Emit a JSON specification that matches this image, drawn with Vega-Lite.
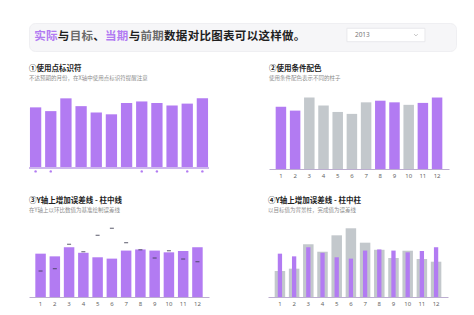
{
  "$schema": "https://vega.github.io/schema/vega-lite/v6.json",
  "padding": {"left": 25, "top": 22, "right": 0, "bottom": 0},
  "background": "white",
  "config": {
    "font": "Noto Sans CJK SC",
    "view": {"stroke": null},
    "title": {"anchor": "start", "frame": "group", "fontSize": 7.5, "fontWeight": "bold", "color": "#222222", "subtitleFontSize": 5.5, "subtitleColor": "#8c8c8c", "subtitlePadding": 3.5, "offset": 12},
    "axisY": {"labels": false, "ticks": false, "domain": false, "grid": false, "minExtent": 4, "maxExtent": 4},
    "axisX": {"labelAngle": 0, "ticks": false, "domainColor": "#bcaed0", "domainWidth": 1, "labelFontSize": 6, "labelColor": "#666666", "labelPadding": 3, "grid": false, "labelFont": "Noto Sans"}
  },
  "datasets": {
    "months": [
      {"month": 1, "actual": 647, "target": 388},
      {"month": 2, "actual": 607, "target": 423},
      {"month": 3, "actual": 743, "target": 787},
      {"month": 4, "actual": 660, "target": 676},
      {"month": 5, "actual": 593, "target": 921},
      {"month": 6, "actual": 573, "target": 1026},
      {"month": 7, "actual": 693, "target": 811},
      {"month": 8, "actual": 710, "target": 705},
      {"month": 9, "actual": 693, "target": 582},
      {"month": 10, "actual": 667, "target": 691},
      {"month": 11, "actual": 687, "target": 567},
      {"month": 12, "actual": 743, "target": 527}
    ],
    "header": [
      {"i": 1, "ch": "实", "part": "a"},
      {"i": 2, "ch": "际", "part": "a"},
      {"i": 3, "ch": "与", "part": "d"},
      {"i": 4, "ch": "目", "part": "p"},
      {"i": 5, "ch": "标", "part": "p"},
      {"i": 6, "ch": "、", "part": "d"},
      {"i": 7, "ch": "当", "part": "a"},
      {"i": 8, "ch": "期", "part": "a"},
      {"i": 9, "ch": "与", "part": "d"},
      {"i": 10, "ch": "前", "part": "p"},
      {"i": 11, "ch": "期", "part": "p"},
      {"i": 12, "ch": "数", "part": "d"},
      {"i": 13, "ch": "据", "part": "d"},
      {"i": 14, "ch": "对", "part": "d"},
      {"i": 15, "ch": "比", "part": "d"},
      {"i": 16, "ch": "图", "part": "d"},
      {"i": 17, "ch": "表", "part": "d"},
      {"i": 18, "ch": "可", "part": "d"},
      {"i": 19, "ch": "以", "part": "d"},
      {"i": 20, "ch": "这", "part": "d"},
      {"i": 21, "ch": "样", "part": "d"},
      {"i": 22, "ch": "做", "part": "d"},
      {"i": 23, "ch": "。", "part": "d"}
    ]
  },
  "spacing": 12,
  "vconcat": [
    {
      "width": 427,
      "height": 28,
      "view": {"fill": "#f6f6f8", "cornerRadius": 6, "stroke": "#efeff2"},
      "resolve": {"scale": {"x": "independent", "y": "independent"}},
      "layer": [
        {
          "data": {"name": "header"},
          "mark": {"type": "text", "fontSize": 11.5, "fontWeight": "bold", "font": "Noto Sans CJK SC"},
          "encoding": {
            "x": {"field": "i", "type": "quantitative", "axis": null, "scale": {"domain": [0.07, 36.25], "zero": false, "nice": false}},
            "text": {"field": "ch"},
            "color": {"field": "part", "type": "nominal", "legend": null, "scale": {"domain": ["a", "d", "p"], "range": ["#b27bf2", "#1f1f1f", "#6b6b6b"]}}
          }
        },
        {
          "data": {"values": [{"label": "2013"}]},
          "layer": [
            {
              "mark": {"type": "rect", "fill": "white", "stroke": "#e4e4e8", "strokeWidth": 0.8},
              "encoding": {
                "x": {"field": "label", "type": "nominal", "axis": null, "scale": {"type": "band", "paddingInner": 0.553, "paddingOuter": 1, "align": 0.911}},
                "y": {"field": "label", "type": "nominal", "axis": null, "scale": {"type": "band", "paddingInner": 0, "paddingOuter": 0.545, "align": 0.363}}
              }
            },
            {
              "mark": {"type": "text", "align": "left", "dx": 8, "fontSize": 6.5, "color": "#777777", "font": "Noto Sans"},
              "encoding": {
                "x": {"field": "label", "type": "nominal", "bandPosition": 0, "axis": null, "scale": {"type": "band"}},
                "y": {"field": "label", "type": "nominal", "axis": null, "scale": {"type": "band"}},
                "text": {"field": "label"}
              }
            },
            {
              "mark": {"type": "point", "shape": "M-1,-0.5L0,0.5L1,-0.5", "filled": false, "stroke": "#9a9a9a", "strokeWidth": 0.8, "size": 14, "xOffset": -9},
              "encoding": {
                "x": {"field": "label", "type": "nominal", "bandPosition": 1, "axis": null, "scale": {"type": "band"}},
                "y": {"field": "label", "type": "nominal", "axis": null, "scale": {"type": "band"}}
              }
            }
          ]
        }
      ]
    },
    {
      "spacing": 18,
      "vconcat": [
        {
          "spacing": 55,
          "hconcat": [
            {
              "width": 180,
              "height": 84.5,
              "title": {"text": "①使用点标识符", "subtitle": "不达预期的月份，在X轴中使用点标识符提醒注意"},
              "data": {"name": "months"},
              "layer": [
                {
                  "mark": {"type": "bar", "color": "#b27bf2"},
                  "encoding": {
                    "x": {"field": "month", "type": "ordinal", "axis": null, "scale": {"paddingInner": 0.255, "paddingOuter": 0.063}},
                    "y": {"field": "actual", "type": "quantitative", "scale": {"domain": [-45, 800]}, "axis": {"title": null}}
                  }
                },
                {
                  "mark": {"type": "rule", "color": "#cdb8ee", "strokeWidth": 1},
                  "encoding": {"y": {"datum": 0}}
                },
                {
                  "transform": [{"filter": "datum.actual >= datum.target"}],
                  "mark": {"type": "point", "filled": true, "color": "#b27bf2", "size": 6, "opacity": 1},
                  "encoding": {
                    "x": {"field": "month", "type": "ordinal", "axis": null},
                    "y": {"datum": -35}
                  }
                }
              ]
            },
            {
              "width": 180,
              "height": 76,
              "title": {"text": "②使用条件配色", "subtitle": "使用条件配色表示不同的柱子"},
              "data": {"name": "months"},
              "mark": {"type": "bar"},
              "encoding": {
                "x": {"field": "month", "type": "ordinal", "axis": {"title": null}, "scale": {"paddingInner": 0.26, "paddingOuter": 0.47}},
                "y": {"field": "actual", "type": "quantitative", "scale": {"domain": [0, 790]}, "axis": {"title": null}},
                "color": {"condition": {"test": "datum.actual >= datum.target", "value": "#b27bf2"}, "value": "#c3c8cc"}
              }
            }
          ]
        },
        {
          "spacing": 55,
          "hconcat": [
            {
              "width": 180,
              "height": 72,
              "title": {"text": "③Y轴上增加误差线 - 柱中线", "subtitle": "在Y轴上以环比数值为基准绘制误差线"},
              "data": {"name": "months"},
              "encoding": {
                "x": {"field": "month", "type": "ordinal", "axis": {"title": null}, "scale": {"paddingInner": 0.264, "paddingOuter": 0.443}}
              },
              "layer": [
                {
                  "mark": {"type": "bar", "color": "#b27bf2"},
                  "encoding": {"y": {"field": "actual", "type": "quantitative", "scale": {"domain": [0, 1075]}, "axis": {"title": null}}}
                },
                {
                  "mark": {"type": "tick", "color": "#3c3c50", "size": 4, "thickness": 1.2},
                  "encoding": {"y": {"field": "target", "type": "quantitative", "scale": {"domain": [0, 1075]}}}
                }
              ]
            },
            {
              "width": 180,
              "height": 72,
              "title": {"text": "④Y轴上增加误差线 - 柱中柱", "subtitle": "以目标值为背景柱，完成值为误差线"},
              "data": {"name": "months"},
              "encoding": {
                "x": {"field": "month", "type": "ordinal", "axis": {"title": null}, "scale": {"paddingInner": 0.26, "paddingOuter": 0.47}}
              },
              "layer": [
                {
                  "mark": {"type": "bar", "color": "#c3c8cc"},
                  "encoding": {"y": {"field": "target", "type": "quantitative", "scale": {"domain": [0, 1075]}, "axis": {"title": null}}}
                },
                {
                  "mark": {"type": "bar", "color": "#b27bf2", "width": {"band": 0.41}},
                  "encoding": {"y": {"field": "actual", "type": "quantitative", "scale": {"domain": [0, 1075]}}}
                }
              ]
            }
          ]
        }
      ]
    }
  ]
}
